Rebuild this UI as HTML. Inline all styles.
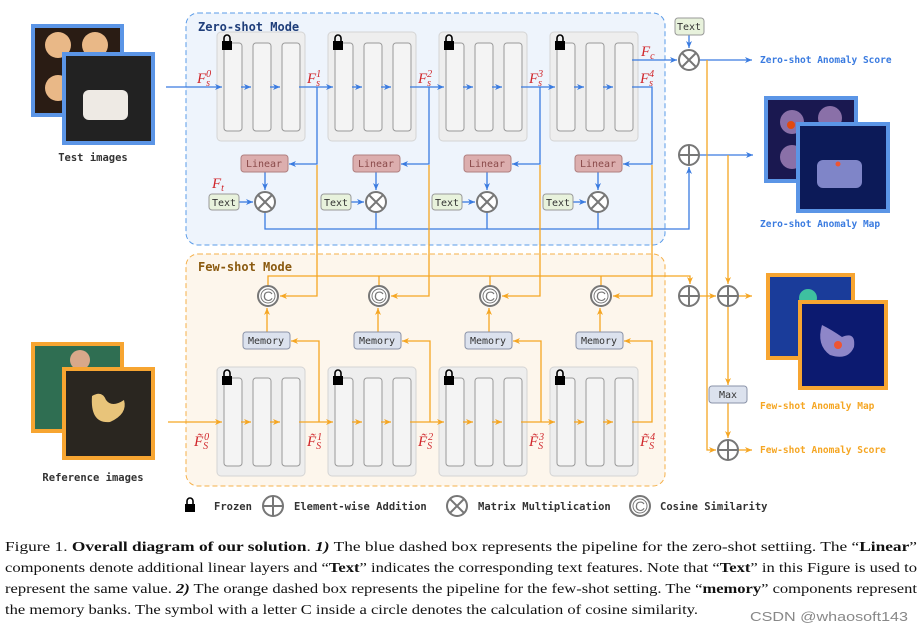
<!DOCTYPE html>
<html><head><meta charset="utf-8"><style>
html,body{margin:0;padding:0;background:#fff;}
svg{display:block;}
.m{font-family:"DejaVu Sans Mono","Liberation Mono",monospace;}
.s{font-family:"Liberation Serif",serif;}
</style></head><body>
<svg width="921" height="633" viewBox="0 0 921 633" xmlns="http://www.w3.org/2000/svg">
<defs>
<marker id="ab" markerWidth="8" markerHeight="8" refX="7" refY="4" orient="auto" markerUnits="userSpaceOnUse"><path d="M0,1 L7,4 L0,7 L2,4 z" fill="#3a7be0"/></marker>
<marker id="ao" markerWidth="8" markerHeight="8" refX="7" refY="4" orient="auto" markerUnits="userSpaceOnUse"><path d="M0,1 L7,4 L0,7 L2,4 z" fill="#f5a623"/></marker>
<g id="stage">
<rect x="0" y="0" width="88" height="109" rx="4" fill="#eeeeee" stroke="#d4d4d4"/>
<rect x="7" y="11" width="18" height="88" rx="3" fill="#f4f4f4" stroke="#999" stroke-width="1"/>
<rect x="36" y="11" width="18" height="88" rx="3" fill="#f4f4f4" stroke="#999" stroke-width="1"/>
<rect x="65" y="11" width="18" height="88" rx="3" fill="#f4f4f4" stroke="#999" stroke-width="1"/>
<rect x="5" y="9" width="10" height="9" fill="#000"/><path d="M7,9 v-3 a3,3 0 0 1 6,0 v3" fill="none" stroke="#000" stroke-width="1.6"/>
</g>
<g id="cross"><circle r="10" fill="#fff" stroke="#777" stroke-width="2"/><path d="M-7,-7 L7,7 M7,-7 L-7,7" stroke="#777" stroke-width="2"/></g>
<g id="plus"><circle r="10" fill="#fff" stroke="#777" stroke-width="2"/><path d="M-10,0 H10 M0,-10 V10" stroke="#777" stroke-width="2"/></g>
<g id="cos"><circle r="10" fill="#fff" stroke="#777" stroke-width="2"/><circle r="7" fill="none" stroke="#777" stroke-width="1"/><text x="0" y="5" font-size="14" text-anchor="middle" fill="#777" font-family="Liberation Sans">C</text></g>
</defs>

<rect x="186" y="13" width="479" height="232" rx="12" fill="#eef4fc" stroke="#5a9be8" stroke-dasharray="5,3"/>
<text x="198" y="31" class="m" font-size="12" font-weight="bold" fill="#1f3e7a">Zero-shot Mode</text>
<rect x="186" y="254" width="479" height="232" rx="12" fill="#fdf6ec" stroke="#f5b04a" stroke-dasharray="5,3"/>
<text x="198" y="271" class="m" font-size="12" font-weight="bold" fill="#8a5a10">Few-shot Mode</text>

<use href="#stage" x="217" y="32"/><use href="#stage" x="328" y="32"/><use href="#stage" x="439" y="32"/><use href="#stage" x="550" y="32"/>
<g stroke="#3a7be0" stroke-width="1.3" fill="none">
<path d="M166,87 H222" marker-end="url(#ab)"/>
<path d="M241,87 H251" marker-end="url(#ab)"/><path d="M270,87 H280" marker-end="url(#ab)"/>
<path d="M299,87 H333" marker-end="url(#ab)"/>
<path d="M352,87 H362" marker-end="url(#ab)"/><path d="M381,87 H391" marker-end="url(#ab)"/>
<path d="M410,87 H444" marker-end="url(#ab)"/>
<path d="M463,87 H473" marker-end="url(#ab)"/><path d="M492,87 H502" marker-end="url(#ab)"/>
<path d="M521,87 H555" marker-end="url(#ab)"/>
<path d="M574,87 H584" marker-end="url(#ab)"/><path d="M603,87 H613" marker-end="url(#ab)"/>
<path d="M632,87 H652 V164 H623" marker-end="url(#ab)"/>
<path d="M632,60 H677" marker-end="url(#ab)"/>
<path d="M317,87 V164 H289" marker-end="url(#ab)"/>
<path d="M429,87 V164 H401" marker-end="url(#ab)"/>
<path d="M540,87 V164 H512" marker-end="url(#ab)"/>
<path d="M265,172 V190" marker-end="url(#ab)"/><path d="M376,172 V190" marker-end="url(#ab)"/>
<path d="M487,172 V190" marker-end="url(#ab)"/><path d="M598,172 V190" marker-end="url(#ab)"/>
<path d="M239,202 H253" marker-end="url(#ab)"/><path d="M350,202 H364" marker-end="url(#ab)"/>
<path d="M461,202 H475" marker-end="url(#ab)"/><path d="M572,202 H586" marker-end="url(#ab)"/>
<path d="M265,212 V229 H689 V167" marker-end="url(#ab)"/>
<path d="M376,212 V229 M487,212 V229 M598,212 V229"/>
<path d="M689,35 V48" marker-end="url(#ab)"/>
<path d="M699,60 H752" marker-end="url(#ab)"/>
<path d="M699,155 H753" marker-end="url(#ab)"/>
</g>
<g font-size="10" class="m" fill="#8a4a4a" text-anchor="middle">
<rect x="241" y="155" width="47" height="17" rx="3" fill="#dcaeae" stroke="#b08080"/><text x="264" y="167">Linear</text>
<rect x="353" y="155" width="47" height="17" rx="3" fill="#dcaeae" stroke="#b08080"/><text x="376" y="167">Linear</text>
<rect x="464" y="155" width="47" height="17" rx="3" fill="#dcaeae" stroke="#b08080"/><text x="487" y="167">Linear</text>
<rect x="575" y="155" width="47" height="17" rx="3" fill="#dcaeae" stroke="#b08080"/><text x="598" y="167">Linear</text>
</g>
<g font-size="10" class="m" fill="#333" text-anchor="middle">
<rect x="209" y="194" width="30" height="16" rx="3" fill="#e8f2dc" stroke="#999"/><text x="224" y="206">Text</text>
<rect x="321" y="194" width="30" height="16" rx="3" fill="#e8f2dc" stroke="#999"/><text x="336" y="206">Text</text>
<rect x="432" y="194" width="30" height="16" rx="3" fill="#e8f2dc" stroke="#999"/><text x="447" y="206">Text</text>
<rect x="543" y="194" width="30" height="16" rx="3" fill="#e8f2dc" stroke="#999"/><text x="558" y="206">Text</text>
<rect x="675" y="18" width="29" height="17" rx="3" fill="#e8f2dc" stroke="#999"/><text x="689" y="30">Text</text>
</g>
<use href="#cross" x="265" y="202"/><use href="#cross" x="376" y="202"/><use href="#cross" x="487" y="202"/><use href="#cross" x="598" y="202"/>
<use href="#cross" x="689" y="60"/><use href="#plus" x="689" y="155"/>

<g font-family="Liberation Serif" font-style="italic" fill="#d0252a" font-size="15">
<text x="197" y="83">F<tspan font-size="10" dy="3">s</tspan><tspan font-size="10" dy="-9" dx="-4">0</tspan></text>
<text x="307" y="83">F<tspan font-size="10" dy="3">s</tspan><tspan font-size="10" dy="-9" dx="-4">1</tspan></text>
<text x="418" y="83">F<tspan font-size="10" dy="3">s</tspan><tspan font-size="10" dy="-9" dx="-4">2</tspan></text>
<text x="529" y="83">F<tspan font-size="10" dy="3">s</tspan><tspan font-size="10" dy="-9" dx="-4">3</tspan></text>
<text x="640" y="83">F<tspan font-size="10" dy="3">s</tspan><tspan font-size="10" dy="-9" dx="-4">4</tspan></text>
<text x="641" y="56">F<tspan font-size="10" dy="3">c</tspan></text>
<text x="212" y="188">F<tspan font-size="10" dy="3">t</tspan></text>
<text x="194" y="446">F̃<tspan font-size="10" dy="3">S</tspan><tspan font-size="10" dy="-9" dx="-4">0</tspan></text>
<text x="307" y="446">F̃<tspan font-size="10" dy="3">S</tspan><tspan font-size="10" dy="-9" dx="-4">1</tspan></text>
<text x="418" y="446">F̃<tspan font-size="10" dy="3">S</tspan><tspan font-size="10" dy="-9" dx="-4">2</tspan></text>
<text x="529" y="446">F̃<tspan font-size="10" dy="3">S</tspan><tspan font-size="10" dy="-9" dx="-4">3</tspan></text>
<text x="640" y="446">F̃<tspan font-size="10" dy="3">S</tspan><tspan font-size="10" dy="-9" dx="-4">4</tspan></text>
</g>

<use href="#stage" x="217" y="367"/><use href="#stage" x="328" y="367"/><use href="#stage" x="439" y="367"/><use href="#stage" x="550" y="367"/>
<g stroke="#f5a623" stroke-width="1.3" fill="none">
<path d="M168,422 H222" marker-end="url(#ao)"/>
<path d="M241,422 H251" marker-end="url(#ao)"/><path d="M270,422 H280" marker-end="url(#ao)"/>
<path d="M299,422 H333" marker-end="url(#ao)"/>
<path d="M352,422 H362" marker-end="url(#ao)"/><path d="M381,422 H391" marker-end="url(#ao)"/>
<path d="M410,422 H444" marker-end="url(#ao)"/>
<path d="M463,422 H473" marker-end="url(#ao)"/><path d="M492,422 H502" marker-end="url(#ao)"/>
<path d="M521,422 H555" marker-end="url(#ao)"/>
<path d="M574,422 H584" marker-end="url(#ao)"/><path d="M603,422 H613" marker-end="url(#ao)"/>
<path d="M319,422 V341 H291" marker-end="url(#ao)"/>
<path d="M430,422 V341 H402" marker-end="url(#ao)"/>
<path d="M541,422 V341 H513" marker-end="url(#ao)"/>
<path d="M632,422 H652 V341 H624" marker-end="url(#ao)"/>
<path d="M267,332 V308" marker-end="url(#ao)"/><path d="M378,332 V308" marker-end="url(#ao)"/>
<path d="M489,332 V308" marker-end="url(#ao)"/><path d="M600,332 V308" marker-end="url(#ao)"/>
<path d="M317,165 V296 H280" marker-end="url(#ao)"/>
<path d="M429,165 V296 H391" marker-end="url(#ao)"/>
<path d="M540,165 V296 H502" marker-end="url(#ao)"/>
<path d="M652,165 V296 H613" marker-end="url(#ao)"/>
<path d="M268,286 V276 H690 V284" marker-end="url(#ao)"/>
<path d="M379,286 V276 M490,286 V276 M601,286 V276"/>
<path d="M699,296 H716" marker-end="url(#ao)"/>
<path d="M738,296 H752" marker-end="url(#ao)"/>
<path d="M707,60 V450 H716" marker-end="url(#ao)"/>
<path d="M728,155 V284" marker-end="url(#ao)"/>
<path d="M728,306 V385" marker-end="url(#ao)"/>
<path d="M728,403 V438" marker-end="url(#ao)"/>
<path d="M738,450 H752" marker-end="url(#ao)"/>
</g>
<g font-size="10" class="m" fill="#333" text-anchor="middle">
<rect x="243" y="332" width="47" height="17" rx="3" fill="#dce2ee" stroke="#8a93a8"/><text x="266" y="344">Memory</text>
<rect x="354" y="332" width="47" height="17" rx="3" fill="#dce2ee" stroke="#8a93a8"/><text x="377" y="344">Memory</text>
<rect x="465" y="332" width="47" height="17" rx="3" fill="#dce2ee" stroke="#8a93a8"/><text x="488" y="344">Memory</text>
<rect x="576" y="332" width="47" height="17" rx="3" fill="#dce2ee" stroke="#8a93a8"/><text x="599" y="344">Memory</text>
<rect x="709" y="386" width="38" height="17" rx="3" fill="#dce2ee" stroke="#8a93a8"/><text x="728" y="398">Max</text>
</g>
<use href="#cos" x="268" y="296"/><use href="#cos" x="379" y="296"/><use href="#cos" x="490" y="296"/><use href="#cos" x="601" y="296"/>
<use href="#plus" x="689" y="296"/><use href="#plus" x="728" y="296"/><use href="#plus" x="728" y="450"/>

<g class="m" font-size="9.5" font-weight="bold">
<text x="760" y="63" fill="#3a7be0">Zero-shot Anomaly Score</text>
<text x="760" y="227" fill="#3a7be0">Zero-shot Anomaly Map</text>
<text x="760" y="409" fill="#f5a623">Few-shot Anomaly Map</text>
<text x="760" y="453" fill="#f5a623">Few-shot Anomaly Score</text>
</g>

<rect x="31" y="24" width="93" height="93" fill="#5b95e6"/><rect x="35" y="28" width="85" height="85" fill="#2a1c14"/>
<circle cx="58" cy="45" r="13" fill="#e9b887"/><circle cx="95" cy="45" r="13" fill="#e9b887"/><circle cx="58" cy="88" r="13" fill="#e9b887"/>
<rect x="62" y="52" width="93" height="93" fill="#5b95e6"/><rect x="66" y="56" width="85" height="85" fill="#222"/>
<rect x="83" y="90" width="45" height="30" rx="6" fill="#eeeae4"/>
<text x="93" y="161" class="m" font-size="10.5" font-weight="bold" fill="#333" text-anchor="middle">Test images</text>

<rect x="764" y="96" width="94" height="87" fill="#5b95e6"/><rect x="768" y="100" width="86" height="79" fill="#1a1850"/>
<circle cx="792" cy="122" r="12" fill="#8a70a8"/><circle cx="792" cy="157" r="12" fill="#8a70a8"/><circle cx="830" cy="118" r="12" fill="#8a70a8"/>
<circle cx="791" cy="125" r="4" fill="#e04a10"/>
<rect x="796" y="122" width="94" height="91" fill="#5b95e6"/><rect x="800" y="126" width="86" height="83" fill="#0c1a58"/>
<rect x="817" y="160" width="45" height="28" rx="6" fill="#7f85c8"/><circle cx="838" cy="164" r="2.5" fill="#e53"/>

<rect x="31" y="342" width="93" height="91" fill="#f7a531"/><rect x="35" y="346" width="85" height="83" fill="#2f6e52"/>
<circle cx="80" cy="360" r="10" fill="#d8a88a"/>
<rect x="62" y="367" width="93" height="93" fill="#f7a531"/><rect x="66" y="371" width="85" height="85" fill="#2a2620"/>
<path d="M92,396 q10,-6 14,4 q6,8 18,0 q4,14 -14,22 q-20,2 -18,-26z" fill="#e8c47a"/>
<text x="93" y="481" class="m" font-size="10.5" font-weight="bold" fill="#333" text-anchor="middle">Reference images</text>

<rect x="766" y="273" width="89" height="87" fill="#f7a531"/><rect x="770" y="277" width="81" height="79" fill="#1a3c9a"/>
<circle cx="808" cy="298" r="9" fill="#3ec0a0"/>
<rect x="798" y="300" width="90" height="90" fill="#f7a531"/><rect x="802" y="304" width="82" height="82" fill="#0c1a70"/>
<path d="M822,325 q10,5 20,12 q14,-6 12,10 q-6,14 -24,8 q-14,-10 -8,-30z" fill="#8e86c8"/><circle cx="838" cy="345" r="4" fill="#e53"/>

<g transform="translate(190,506)">
<rect x="-5" y="-2" width="10" height="8" fill="#000"/><path d="M-3,-2 v-3 a3,3 0 0 1 6,0 v3" fill="none" stroke="#000" stroke-width="1.6"/>
</g>
<g class="m" font-size="10.5" font-weight="bold" fill="#333">
<text x="214" y="510">Frozen</text>
<text x="294" y="510">Element-wise Addition</text>
<text x="478" y="510">Matrix Multiplication</text>
<text x="660" y="510">Cosine Similarity</text>
</g>
<use href="#plus" x="273" y="506"/><use href="#cross" x="457" y="506"/><use href="#cos" x="640" y="506"/>

<g class="s" font-size="14" fill="#111">
<text x="5" y="551" textLength="912" lengthAdjust="spacingAndGlyphs">Figure 1. <tspan font-weight="bold">Overall diagram of our solution</tspan>. <tspan font-style="italic" font-weight="bold">1)</tspan> The blue dashed box represents the pipeline for the zero-shot settiing. The “<tspan font-weight="bold">Linear</tspan>”</text>
<text x="5" y="572" textLength="912" lengthAdjust="spacingAndGlyphs">components denote additional linear layers and “<tspan font-weight="bold">Text</tspan>” indicates the corresponding text features. Note that “<tspan font-weight="bold">Text</tspan>” in this Figure is used to</text>
<text x="5" y="593" textLength="912" lengthAdjust="spacingAndGlyphs">represent the same value. <tspan font-style="italic" font-weight="bold">2)</tspan> The orange dashed box represents the pipeline for the few-shot setting. The “<tspan font-weight="bold">memory</tspan>” components represent</text>
<text x="5" y="614" textLength="693" lengthAdjust="spacingAndGlyphs">the memory banks. The symbol with a letter C inside a circle denotes the calculation of cosine similarity.</text>
</g>
<text x="750" y="621" font-family="Liberation Sans" font-size="13" fill="#888" textLength="158" lengthAdjust="spacingAndGlyphs">CSDN @whaosoft143</text>
</svg>
</body></html>
